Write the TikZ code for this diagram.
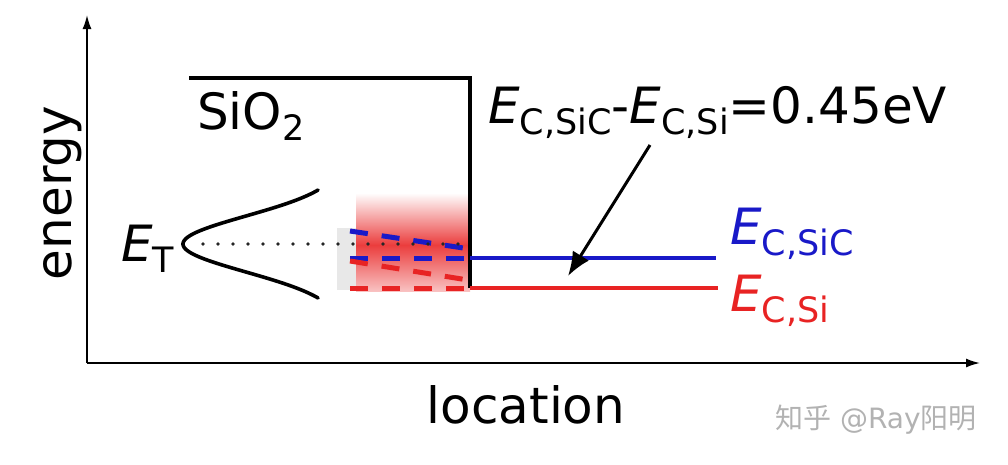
\documentclass[tikz,border=0pt]{standalone}
\usepackage{fontspec}
\setmainfont{DejaVu Sans}
\newfontfamily\cjk{Noto Sans CJK SC}
\usetikzlibrary{arrows.meta}
\definecolor{myblue}{RGB}{25,25,200}
\definecolor{myred}{RGB}{232,35,35}
\newcommand{\bigtxt}{\fontsize{50}{52}\selectfont}
\newcommand{\lowsub}[1]{\raisebox{-0.22em}{\fontsize{35}{37}\selectfont #1}}
\tikzset{
  axis/.style={line width=1.6pt,-{Latex[length=14pt,width=9pt]}},
  band/.style={line width=3.2pt},
  dashline/.style={line width=5pt,dash pattern=on 18pt off 14pt},
  lbl/.style={inner sep=0pt,font=\bigtxt},
}
\begin{document}
\begin{tikzpicture}[x=1pt,y=-1pt]
\useasboundingbox (0,0) rectangle (1008,464);
% coordinates
\coordinate (O) at (87,363);
\coordinate (Ytop) at (87,15);
\coordinate (Xend) at (980,363);
\coordinate (oxL) at (189,78);
\coordinate (oxR) at (470,78);
\coordinate (oxB) at (470,288);
\coordinate (bS) at (470,258);
\coordinate (bE) at (716,258);
\coordinate (rS) at (470,288);
\coordinate (rE) at (718,288);
% shading
\fill[gray!18] (337,228) rectangle (356,290);
\shade[top color=white,bottom color=myred!88] (356,193) rectangle (470,245);
\shade[top color=myred!88,bottom color=myred!28] (356,245) rectangle (470,291);
% axes
\draw[axis] (O) -- (Ytop);
\draw[axis] (O) -- (Xend);
% oxide
\draw[line width=4pt,black] (oxL) -- (oxR) -- (oxB);
% bands
\draw[band,myblue] (bS) -- (bE);
\draw[band,myred] (rS) -- (rE);
% dashed levels
\coordinate (db1s) at (350,231); \coordinate (db1e) at (470,249);
\coordinate (db2s) at (350,258); \coordinate (db2e) at (470,258);
\coordinate (dr1s) at (350,261); \coordinate (dr1e) at (468,280);
\coordinate (dr2s) at (350,288); \coordinate (dr2e) at (470,288);
\draw[dashline,myblue] (db1s) -- (db1e);
\draw[dashline,myblue] (db2s) -- (db2e);
\draw[dashline,myred] (dr1s) -- (dr1e);
\draw[dashline,myred] (dr2s) -- (dr2e);
% dotted line
\coordinate (tip) at (183,244);
\coordinate (dotS) at (203,244);
\coordinate (dotE) at (470,244);
\draw[line width=3.6pt,dash pattern=on 0pt off 15pt,line cap=round,black!85] (dotS) -- (dotE);
% gaussian
\draw[line width=3.6pt,line cap=round] plot[domain=-54:54,samples=90,smooth] ({183+160*(1-exp(-(\x*\x)/(2*28*28)))},{244+\x});
% labels
\node[lbl,anchor=base west] (sio2) at (197,129) {SiO\lowsub{2}};
\node[lbl,anchor=base west] (et) at (121,261) {\textit{E}\lowsub{T}};
\node[lbl,anchor=base west] (top) at (488,123) {\textit{E}\lowsub{C,SiC}-\textit{E}\lowsub{C,Si}=0.45eV};
\node[lbl,anchor=base west,text=myblue] (ecsic) at (730,244) {\textit{E}\lowsub{C,SiC}};
\node[lbl,anchor=base west,text=myred] (ecsi) at (730,311) {\textit{E}\lowsub{C,Si}};
\node[lbl,anchor=base] (loc) at (526,423) {location};
\node[lbl,anchor=base,rotate=90] (en) at (71,193) {energy};
\node[inner sep=0pt,anchor=base west,text=black!30,font=\fontsize{28}{30}\selectfont] (wm) at (775,428) {{\cjk 知乎} @Ray{\cjk 阳明}};
% arrow
\coordinate (aS) at (650,145);
\coordinate (aE) at (568,276);
\draw[line width=3pt,-{Latex[length=24pt,width=19pt]}] (aS) -- (aE);
\end{tikzpicture}
\end{document}
